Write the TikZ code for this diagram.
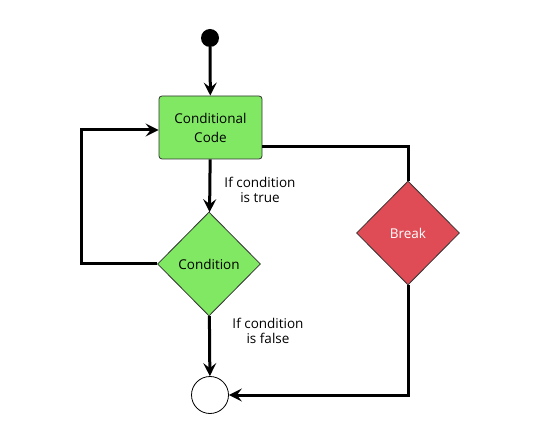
\documentclass[tikz,border=0pt]{standalone}
\usepackage{fontspec}
\setmainfont{Open Sans}
\usetikzlibrary{shapes.geometric,arrows.meta}
\definecolor{boxgreen}{RGB}{128,232,98}
\definecolor{breakred}{RGB}{224,76,86}
\tikzset{
  flow/.style={line width=3pt,-{Stealth[length=13pt,width=13pt,inset=5pt]}},
  plain/.style={line width=3pt},
  codebox/.style={draw=black!80,line width=0.8pt,fill=boxgreen,rounded corners=3pt,
    minimum width=103pt,minimum height=63pt,inner sep=0pt,align=center,font=\fontsize{13.5}{19}\selectfont},
  dia/.style={diamond,draw=black!80,line width=0.8pt,minimum width=103pt,minimum height=104pt,
    inner sep=0pt,font=\fontsize{13.5}{16}\selectfont},
  lbl/.style={align=center,font=\fontsize{13.5}{15}\selectfont,inner sep=0pt}
}
\begin{document}
\begin{tikzpicture}[x=1pt,y=-1pt]
\useasboundingbox (0,0) rectangle (538,446);
\node[circle,fill=black,minimum size=18pt,inner sep=0pt] (start) at (210,38) {};
\node[codebox] (code) at (210.5,127.5) {Conditional\\Code};
\node[dia,fill=boxgreen] (cond) at (209,264) {Condition};
\node[dia,fill=breakred,text=white] (brk) at (408,233) {Break};
\node[circle,draw=black,line width=0.8pt,fill=white,minimum size=37pt,inner sep=0pt] (end) at (210,395) {};
\coordinate (loopA) at (81,264);
\coordinate (loopB) at (81,130);
\coordinate (brA) at (408,147);
\coordinate (brB) at (408,395);
\draw[flow] (start) -- (code);
\draw[flow] (code) -- (cond);
\draw[flow] (cond) -- (end);
\draw[flow] (cond.west) -- (loopA) -- (loopB) -- (loopB -| code.west);
\draw[plain] (code.east |- brA) -- (brA) -- (brk.north);
\draw[flow] (brk.south) -- (brB) -- (end.east);
\node[lbl] (ltrue) at (260,190) {If condition\\is true};
\node[lbl] (lfalse) at (268,331) {If condition\\is false};
\end{tikzpicture}
\end{document}
